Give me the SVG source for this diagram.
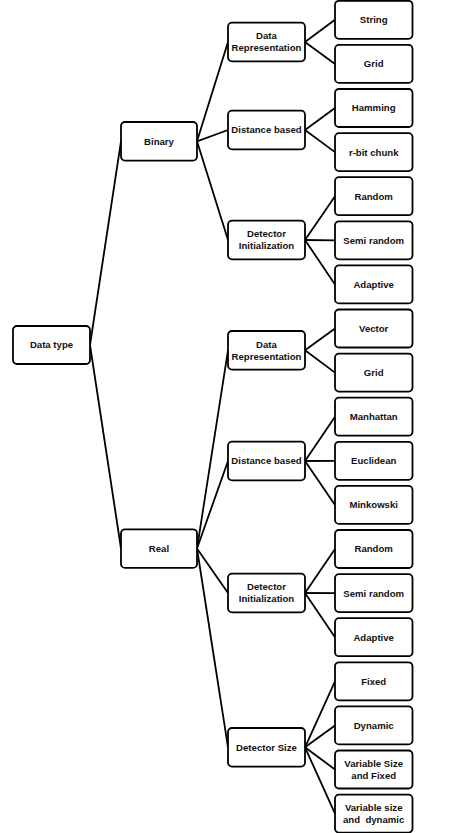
<svg xmlns="http://www.w3.org/2000/svg" width="474" height="833" viewBox="0 0 474 833">
  <style>
    .box { fill: #ffffff; stroke: #000000; stroke-width: 1.8; }
    .lbl { font-family: "Liberation Sans", Arial, sans-serif; font-weight: bold; font-size: 9.6px; fill: #111111; text-anchor: middle; }
    .link { stroke: #000000; stroke-width: 1.8; fill: none; }
  </style>
  <rect width="474" height="833" fill="#ffffff"/>

  <!-- connectors: straight lines from right-middle of parent to left-middle of child -->
  <g id="connectors">
    <!-- root -->
    <line class="link" x1="90" y1="345" x2="121" y2="141.3"/>
    <line class="link" x1="90" y1="345" x2="121" y2="548.5"/>
    <!-- Binary -->
    <line class="link" x1="197" y1="141.3" x2="228" y2="42"/>
    <line class="link" x1="197" y1="141.3" x2="228" y2="130"/>
    <line class="link" x1="197" y1="141.3" x2="228" y2="240"/>
    <!-- Real -->
    <line class="link" x1="197" y1="548.5" x2="228" y2="350.3"/>
    <line class="link" x1="197" y1="548.5" x2="228" y2="461"/>
    <line class="link" x1="197" y1="548.5" x2="228" y2="593"/>
    <line class="link" x1="197" y1="548.5" x2="228" y2="747.3"/>
    <!-- Binary / Data Representation -->
    <line class="link" x1="305" y1="42" x2="335" y2="19.8"/>
    <line class="link" x1="305" y1="42" x2="335" y2="63.9"/>
    <!-- Binary / Distance based -->
    <line class="link" x1="305" y1="130" x2="335" y2="108"/>
    <line class="link" x1="305" y1="130" x2="335" y2="152.1"/>
    <!-- Binary / Detector Initialization -->
    <line class="link" x1="305" y1="240" x2="335" y2="196.2"/>
    <line class="link" x1="305" y1="240" x2="335" y2="240.3"/>
    <line class="link" x1="305" y1="240" x2="335" y2="284.4"/>
    <!-- Real / Data Representation -->
    <line class="link" x1="305" y1="350.3" x2="335" y2="328.5"/>
    <line class="link" x1="305" y1="350.3" x2="335" y2="372.6"/>
    <!-- Real / Distance based -->
    <line class="link" x1="305" y1="461" x2="335" y2="416.7"/>
    <line class="link" x1="305" y1="461" x2="335" y2="460.8"/>
    <line class="link" x1="305" y1="461" x2="335" y2="504.9"/>
    <!-- Real / Detector Initialization -->
    <line class="link" x1="305" y1="593" x2="335" y2="549"/>
    <line class="link" x1="305" y1="593" x2="335" y2="593.1"/>
    <line class="link" x1="305" y1="593" x2="335" y2="637.2"/>
    <!-- Real / Detector Size -->
    <line class="link" x1="305" y1="747.3" x2="335" y2="681.3"/>
    <line class="link" x1="305" y1="747.3" x2="335" y2="725.4"/>
    <line class="link" x1="305" y1="747.3" x2="335" y2="769.5"/>
    <line class="link" x1="305" y1="747.3" x2="335" y2="813.6"/>
  </g>

  <!-- root -->
  <g id="data-type">
    <rect class="box" x="13" y="326" width="77" height="38" rx="4"/>
    <text class="lbl" x="51.5" y="348.4">Data type</text>
  </g>

  <!-- level 1 -->
  <g id="binary">
    <rect class="box" x="121" y="122" width="76" height="38.6" rx="4"/>
    <text class="lbl" x="159" y="144.7">Binary</text>
  </g>
  <g id="real">
    <rect class="box" x="121" y="529.3" width="76" height="38.6" rx="4"/>
    <text class="lbl" x="159" y="551.9">Real</text>
  </g>

  <!-- level 2 -->
  <g id="binary-data-representation">
    <rect class="box" x="228" y="22.7" width="77" height="38.6" rx="4"/>
    <text class="lbl" x="266.5" y="39.4">Data</text>
    <text class="lbl" x="266.5" y="51.4">Representation</text>
  </g>
  <g id="binary-distance-based">
    <rect class="box" x="228" y="110.7" width="77" height="38.6" rx="4"/>
    <text class="lbl" x="266.5" y="133.4">Distance based</text>
  </g>
  <g id="binary-detector-initialization">
    <rect class="box" x="228" y="220.7" width="77" height="38.6" rx="4"/>
    <text class="lbl" x="266.5" y="237.4">Detector</text>
    <text class="lbl" x="266.5" y="249.4">Initialization</text>
  </g>
  <g id="real-data-representation">
    <rect class="box" x="228" y="331" width="77" height="38.6" rx="4"/>
    <text class="lbl" x="266.5" y="347.7">Data</text>
    <text class="lbl" x="266.5" y="359.7">Representation</text>
  </g>
  <g id="real-distance-based">
    <rect class="box" x="228" y="441.7" width="77" height="38.6" rx="4"/>
    <text class="lbl" x="266.5" y="464.4">Distance based</text>
  </g>
  <g id="real-detector-initialization">
    <rect class="box" x="228" y="573.7" width="77" height="38.6" rx="4"/>
    <text class="lbl" x="266.5" y="590.4">Detector</text>
    <text class="lbl" x="266.5" y="602.4">Initialization</text>
  </g>
  <g id="real-detector-size">
    <rect class="box" x="228" y="728" width="77" height="38.6" rx="4"/>
    <text class="lbl" x="266.5" y="750.7">Detector Size</text>
  </g>

  <!-- level 3 -->
  <g id="string">
    <rect class="box" x="335" y="0.8" width="77.5" height="38" rx="4"/>
    <text class="lbl" x="373.7" y="23.2">String</text>
  </g>
  <g id="binary-grid">
    <rect class="box" x="335" y="44.9" width="77.5" height="38" rx="4"/>
    <text class="lbl" x="373.7" y="67.3">Grid</text>
  </g>
  <g id="hamming">
    <rect class="box" x="335" y="89" width="77.5" height="38" rx="4"/>
    <text class="lbl" x="373.7" y="111.4">Hamming</text>
  </g>
  <g id="r-bit-chunk">
    <rect class="box" x="335" y="133.1" width="77.5" height="38" rx="4"/>
    <text class="lbl" x="373.7" y="155.5">r-bit chunk</text>
  </g>
  <g id="binary-random">
    <rect class="box" x="335" y="177.2" width="77.5" height="38" rx="4"/>
    <text class="lbl" x="373.7" y="199.6">Random</text>
  </g>
  <g id="binary-semi-random">
    <rect class="box" x="335" y="221.3" width="77.5" height="38" rx="4"/>
    <text class="lbl" x="373.7" y="243.7">Semi random</text>
  </g>
  <g id="binary-adaptive">
    <rect class="box" x="335" y="265.4" width="77.5" height="38" rx="4"/>
    <text class="lbl" x="373.7" y="287.8">Adaptive</text>
  </g>
  <g id="vector">
    <rect class="box" x="335" y="309.5" width="77.5" height="38" rx="4"/>
    <text class="lbl" x="373.7" y="331.9">Vector</text>
  </g>
  <g id="real-grid">
    <rect class="box" x="335" y="353.6" width="77.5" height="38" rx="4"/>
    <text class="lbl" x="373.7" y="376">Grid</text>
  </g>
  <g id="manhattan">
    <rect class="box" x="335" y="397.7" width="77.5" height="38" rx="4"/>
    <text class="lbl" x="373.7" y="420.1">Manhattan</text>
  </g>
  <g id="euclidean">
    <rect class="box" x="335" y="441.8" width="77.5" height="38" rx="4"/>
    <text class="lbl" x="373.7" y="464.2">Euclidean</text>
  </g>
  <g id="minkowski">
    <rect class="box" x="335" y="485.9" width="77.5" height="38" rx="4"/>
    <text class="lbl" x="373.7" y="508.3">Minkowski</text>
  </g>
  <g id="real-random">
    <rect class="box" x="335" y="530" width="77.5" height="38" rx="4"/>
    <text class="lbl" x="373.7" y="552.4">Random</text>
  </g>
  <g id="real-semi-random">
    <rect class="box" x="335" y="574.1" width="77.5" height="38" rx="4"/>
    <text class="lbl" x="373.7" y="596.5">Semi random</text>
  </g>
  <g id="real-adaptive">
    <rect class="box" x="335" y="618.2" width="77.5" height="38" rx="4"/>
    <text class="lbl" x="373.7" y="640.6">Adaptive</text>
  </g>
  <g id="fixed">
    <rect class="box" x="335" y="662.3" width="77.5" height="38" rx="4"/>
    <text class="lbl" x="373.7" y="684.7">Fixed</text>
  </g>
  <g id="dynamic">
    <rect class="box" x="335" y="706.4" width="77.5" height="38" rx="4"/>
    <text class="lbl" x="373.7" y="728.8">Dynamic</text>
  </g>
  <g id="variable-size-fixed">
    <rect class="box" x="335" y="750.5" width="77.5" height="38" rx="4"/>
    <text class="lbl" x="373.7" y="766.9">Variable Size</text>
    <text class="lbl" x="373.7" y="778.9">and Fixed</text>
  </g>
  <g id="variable-size-dynamic">
    <rect class="box" x="335" y="794.6" width="77.5" height="38" rx="4"/>
    <text class="lbl" x="373.7" y="811">Variable size</text>
    <text class="lbl" x="373.7" y="823" xml:space="preserve">and  dynamic</text>
  </g>
</svg>
